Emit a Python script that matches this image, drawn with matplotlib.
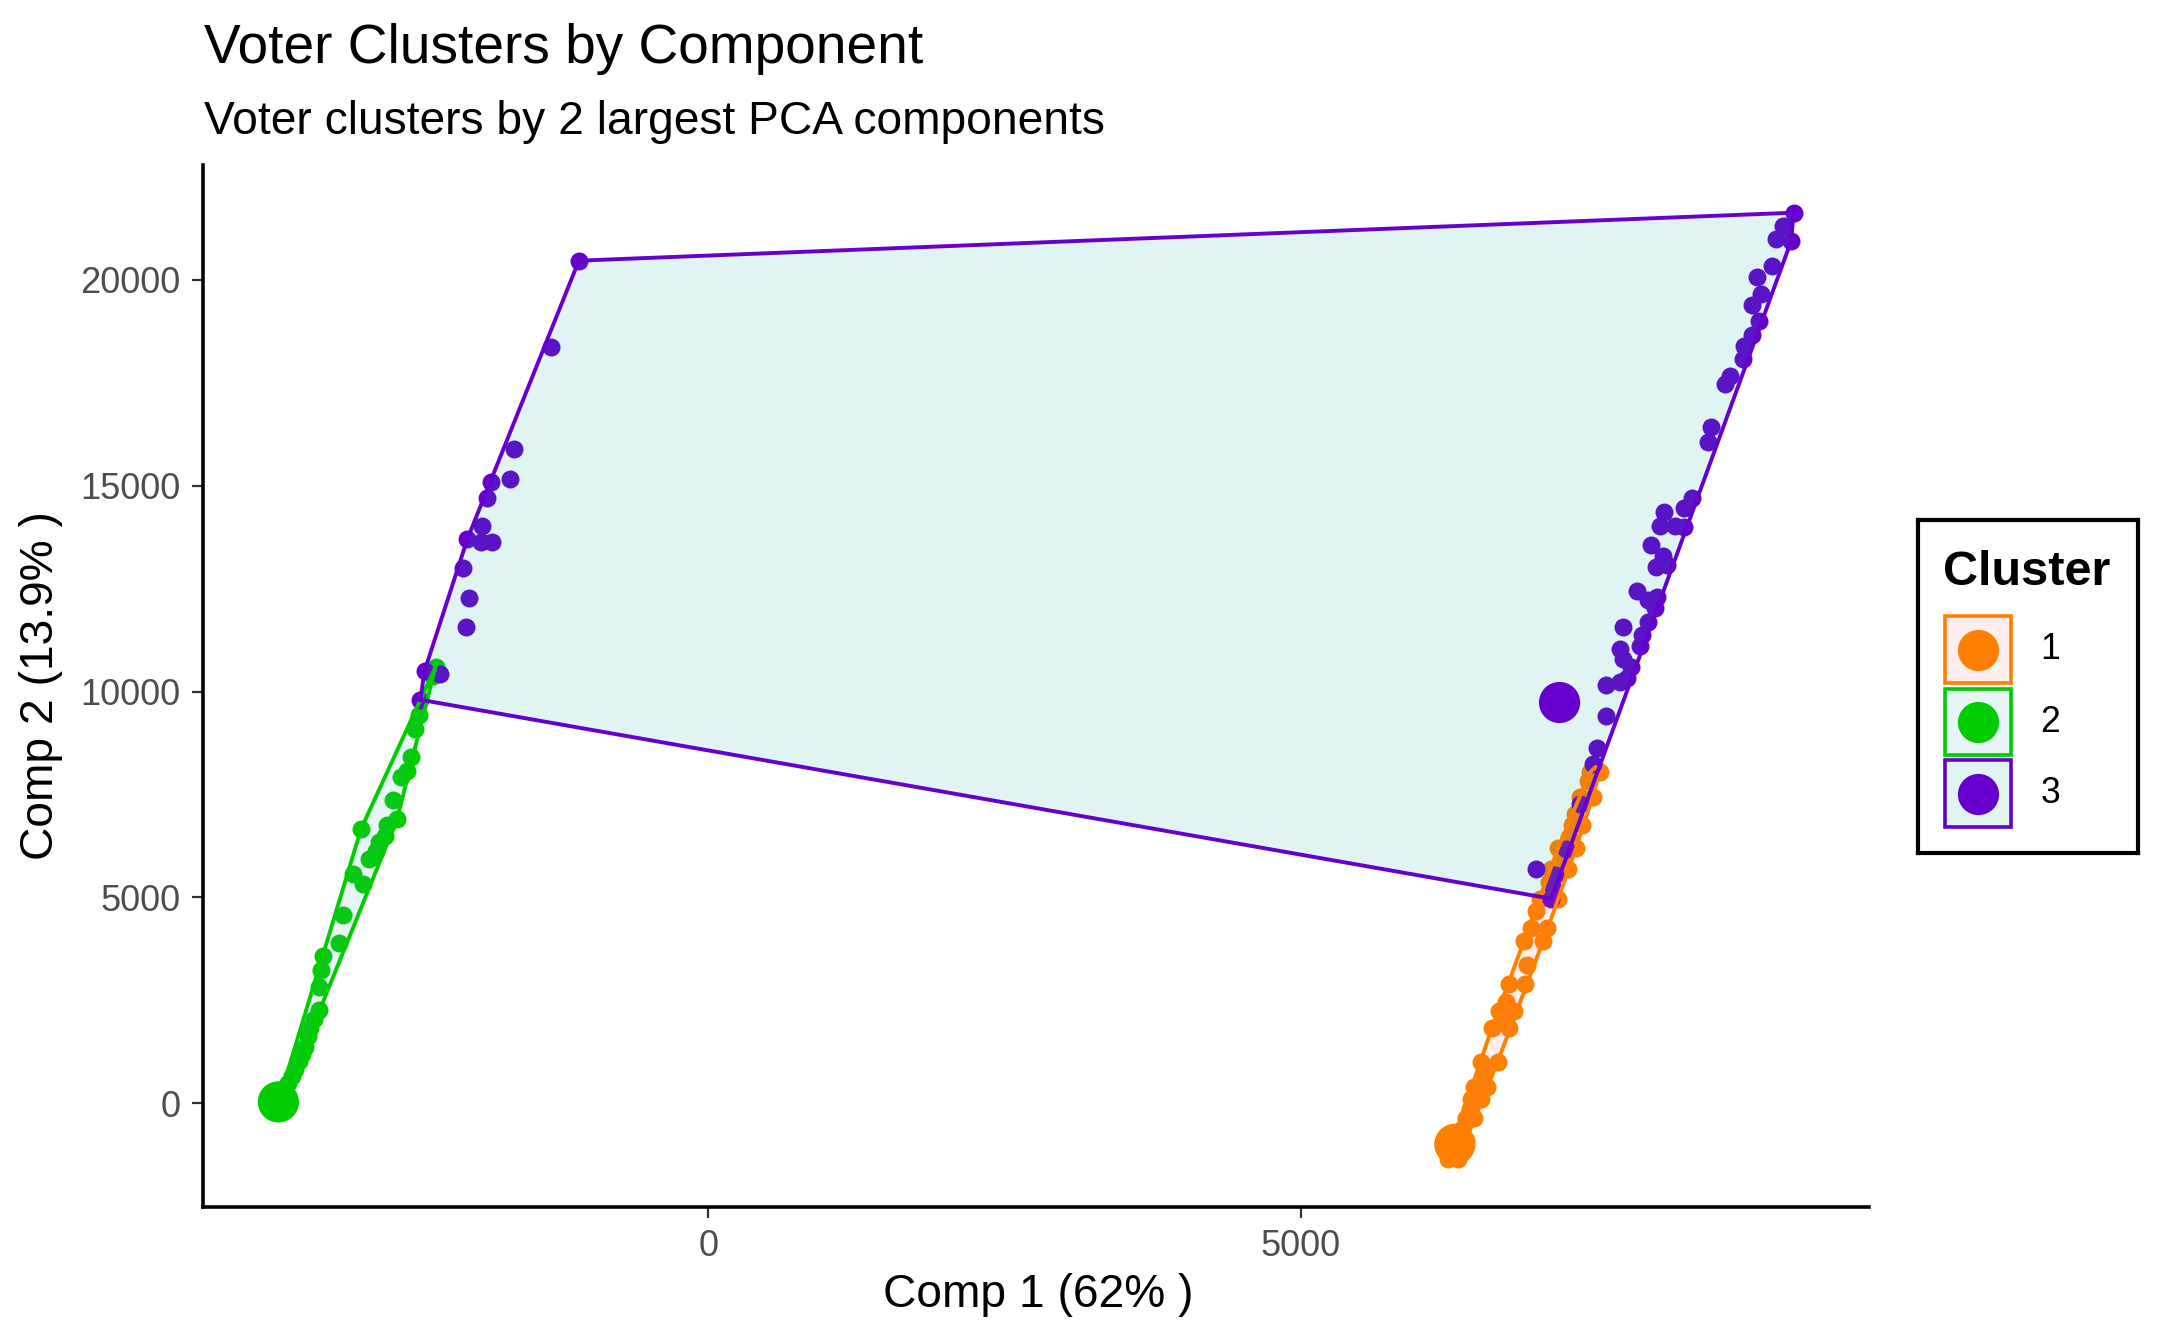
import numpy as np
import matplotlib.pyplot as plt
import matplotlib as mpl
from matplotlib.patches import Rectangle

mpl.rc('font', family=['Liberation Sans', 'DejaVu Sans'])

# cluster 1 (orange)
c1_x = [6245, 6327, 6303, 6292, 6397, 6362, 6397, 6466, 6431, 6443, 6524, 6466, 6571, 6548,
        6524, 6664, 6617, 6757, 6711, 6676, 6804, 6734, 6757, 6897, 6908, 6885, 7048, 6943,
        7083, 6990, 7025, 7176, 7094, 7117, 7257, 7222, 7176, 7327, 7269, 7292, 7373, 7315,
        7361, 7466, 7431, 7443, 7525, 7490]
c1_y = [-1367, -1367, -1167, -900, -900, -633, -367, -367, -133, 100, 100, 400, 400, 733,
        1000, 1000, 1833, 1833, 2000, 2233, 2233, 2467, 2900, 2900, 3367, 3933, 3933, 4267,
        4267, 4667, 4967, 4967, 5367, 5700, 5700, 5933, 6200, 6200, 6467, 6767, 6767, 7033,
        7433, 7433, 7833, 8033, 8033, 8167]

# cluster 2 (green)
c2_x = [-3630, -3605, -3570, -3547, -3512, -3489, -3454, -3431, -3408, -3384, -3361, -3326,
        -3291, -3291, -3268, -3256, -3117, -3082, -3000, -2919, -2931, -2861, -2803, -2780,
        -2733, -2710, -2663, -2628, -2594, -2547, -2512, -2477, -2442, -2303, -2326]
c2_y = [30, 167, 367, 500, 667, 833, 1033, 1200, 1367, 1633, 1833, 2033,
        2267, 2833, 3233, 3567, 3900, 4567, 5567, 5333, 6667, 5933, 6133, 6333,
        6500, 6767, 7367, 6900, 7933, 8067, 8400, 9100, 9433, 10600, 10367]

# cluster 3 (purple)
c3_x = [-1093, -1326, -1640, -1675, -1838, -1872, -1907, -2035, -1919, -1826, -2070, -2024,
        -2047, -2396, -2268, -2431,
        9164, 9071, 9013, 9141, 8978, 8850, 8885, 8815, 8874, 8815, 8746, 8734, 8629, 8583,
        8467, 8443, 8304, 8234, 8071, 8036, 8164, 8234, 7955, 8059, 8001, 8094, 7838, 7931,
        8013, 7990, 7931, 7722, 7885, 7699, 7862, 7583, 7722, 7699, 7757, 7792, 7583, 7501,
        7466, 7361, 7245, 6990, 7152, 7129, 7117]
c3_y = [20467, 18367, 15900, 15167, 15100, 14700, 14033, 13700, 13633, 13633, 13000, 12267,
        11567, 10500, 10433, 9800,
        21633, 21300, 21000, 20933, 20333, 20067, 19667, 19400, 19000, 18667, 18400, 18067,
        17667, 17467, 16433, 16067, 14700, 14467, 14367, 14033, 14033, 14000, 13567, 13300,
        13033, 13067, 12433, 12233, 12300, 12033, 11700, 11567, 11367, 11033, 11100, 10167,
        10800, 10233, 10333, 10600, 9400, 8633, 8233, 7267, 6167, 5700, 5533, 5233, 4967]

# cluster centers
cen_x = [6303, -3630, 7187]
cen_y = [-1000, 30, 9733]

labels = ['1', '2', '3']
colors = ['#FF8000', '#00CC00', '#6600CC']
fills = ['#F8766D', '#3AB0C0', '#00A99D']
fill_alpha = 0.12


def hull(px, py):
    pts = sorted(set(zip(px, py)))
    def cross(o, a, b):
        return (a[0]-o[0])*(b[1]-o[1]) - (a[1]-o[1])*(b[0]-o[0])
    lo, up = [], []
    for p in pts:
        while len(lo) >= 2 and cross(lo[-2], lo[-1], p) <= 0:
            lo.pop()
        lo.append(p)
    for p in reversed(pts):
        while len(up) >= 2 and cross(up[-2], up[-1], p) <= 0:
            up.pop()
        up.append(p)
    h = np.array(lo[:-1] + up[:-1])
    return h[:, 0], h[:, 1]


fig = plt.figure(figsize=(10.8, 6.705), dpi=200)
ax = fig.add_axes([0.0938, 0.1001, 0.7717, 0.7766])

clusters = [(c1_x, c1_y), (c2_x, c2_y), (c3_x, c3_y)]
for (cx, cy), col in zip(clusters, colors):
    ax.scatter(cx, cy, s=42, color=col, linewidths=0, zorder=2)

for (cx, cy), col, fc in zip(clusters, colors, fills):
    hx, hy = hull(cx, cy)
    ax.fill(hx, hy, facecolor=fc, alpha=fill_alpha, edgecolor='none', zorder=3)
    ax.plot(np.append(hx, hx[0]), np.append(hy, hy[0]), color=col, lw=1.4, zorder=4)

ax.scatter(cen_x, cen_y, s=220, color=colors, linewidths=0, zorder=5)

allx = np.concatenate([c1_x, c2_x, c3_x, cen_x])
ally = np.concatenate([c1_y, c2_y, c3_y, cen_y])
dx = (allx.max() - allx.min()) * 0.05
dy = (ally.max() - ally.min()) * 0.05
ax.set_xlim(allx.min() - dx, allx.max() + dx)
ax.set_ylim(ally.min() - dy, ally.max() + dy)

ax.set_xticks([0, 5000])
ax.set_yticks([0, 5000, 10000, 15000, 20000])
ax.tick_params(labelsize=13, colors='#333333', labelcolor='#4D4D4D', length=4, width=0.8, pad=4)
for s in ['top', 'right']:
    ax.spines[s].set_visible(False)
for s in ['left', 'bottom']:
    ax.spines[s].set_linewidth(1.3)

fig.text(0.4805, 0.0257, 'Comp 1 (62% )', ha='center', va='baseline', fontsize=16.6)
fig.text(0.019, 0.4885, 'Comp 2 (13.9% )', ha='center', va='center', rotation=90, fontsize=16.6)
fig.text(0.0944, 0.9527, 'Voter Clusters by Component', ha='left', va='baseline', fontsize=19.8)
fig.text(0.0944, 0.9003, 'Voter clusters by 2 largest PCA components', ha='left', va='baseline', fontsize=16.6)

# legend drawn in its own pixel-scaled axes
lax = fig.add_axes([1918.3/2160, 1-852.7/1341, 220/2160, 332.7/1341])
lax.set_xlim(0, 220)
lax.set_ylim(0, 332.7)
lax.set_xticks([])
lax.set_yticks([])
for s in lax.spines.values():
    s.set_linewidth(1.5)
lax.text(24.7, 267.7, 'Cluster', fontsize=17.5, fontweight='bold', ha='left', va='baseline')
key_bottoms = [168.4, 96.0, 24.4]
for lab, col, fc, kb in zip(labels, colors, fills, key_bottoms):
    lax.add_patch(Rectangle((25, kb), 69.4, 69.4, facecolor=fc, alpha=fill_alpha, edgecolor='none'))
    lax.add_patch(Rectangle((26.5, kb + 1.5), 66.4, 66.4, facecolor='none', edgecolor=col, lw=1.3))
    lax.scatter([59.7], [kb + 34.7], s=220, color=col, linewidths=0)
    lax.text(122, kb + 34.7, lab, fontsize=12.8, ha='left', va='center')

plt.savefig('out.png', dpi=200)
